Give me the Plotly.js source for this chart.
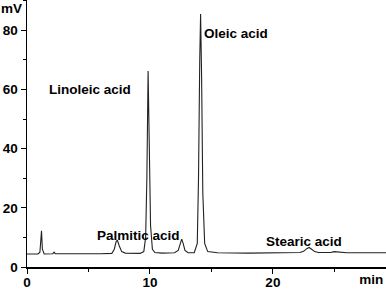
<!DOCTYPE html>
<html>
<head>
<meta charset="utf-8">
<script src="https://cdn.plot.ly/plotly-3.0.1.min.js"></script>
<style>html,body{margin:0;padding:0;background:#fff;}#chart{width:386px;height:290px;}</style>
</head>
<body>
<div id="chart"></div>
<script>
// Retention time (min) and detector signal (mV)
const timeMin = [0, 0.9, 1.05, 1.12, 1.18, 1.25, 1.4, 2.1, 2.2, 2.3, 4, 6, 6.9, 7.1, 7.25, 7.35, 7.5, 7.7, 8,
  9.2, 9.5, 9.65, 9.75, 9.85, 9.95, 10.05, 10.2, 10.4, 11, 12, 12.3, 12.45, 12.58, 12.7, 12.85, 13.1,
  13.6, 13.85, 13.95, 14.05, 14.12, 14.2, 14.3, 14.45, 14.7, 15.5, 18, 22.2, 22.5, 22.75, 22.95, 23.15,
  23.4, 23.7, 24.7, 25.0, 25.3, 25.6, 26, 29.2];
const signalMv = [4.4, 4.4, 5, 9, 12.2, 6, 4.4, 4.5, 5.0, 4.5, 4.4, 4.5, 4.6, 6, 8.6, 9.1, 7.2, 5.2, 4.7,
  4.6, 5.2, 10, 30, 66.2, 40, 14, 6, 4.9, 4.7, 4.8, 5.6, 8, 9.4, 8, 5.6, 4.8,
  4.8, 8, 30, 70, 85.5, 65, 25, 8, 5.2, 4.8, 4.7, 4.9, 5.3, 6.2, 6.6, 6,
  5.2, 4.9, 4.9, 5.2, 5.1, 4.9, 4.8, 4.8];

// Peak labels
const peakNames = ["Linoleic acid", "Oleic acid", "Palmitic acid", "Stearic acid"];
const peakLabelX = [1.6, 14.25, 5.55, 19.3];
const peakLabelY = [60.1, 79, 10.8, 8.55];

const xTickVals = [0, 10, 20];
const yTickVals = [0, 20, 40, 60, 80];
const xUnitPos = [28.0];
const xUnitText = ["min"];

const font = {family: "Liberation Sans, Arial, sans-serif", size: 13.5, color: "#000", weight: "bold"};

const annotations = peakNames.map((t, i) => ({
  text: t, x: peakLabelX[i], y: peakLabelY[i], xref: "x", yref: "y",
  xanchor: "left", yanchor: "middle", showarrow: false, font: font
}));
annotations.push({text: "mV", xref: "paper", yref: "paper", x: 0, y: 0.97,
  xanchor: "right", yanchor: "middle", xshift: -3, showarrow: false, font: font});

Plotly.newPlot("chart", [{
  x: timeMin, y: signalMv, type: "scatter", mode: "lines",
  line: {color: "#222", width: 1.1}, hoverinfo: "skip"
}, {
  x: [], y: [], xaxis: "x2", yaxis: "y", type: "scatter", mode: "lines",
  hoverinfo: "skip", showlegend: false
}], {
  width: 386, height: 290,
  margin: {l: 27, r: 0, t: 0, b: 23, pad: 0},
  paper_bgcolor: "#fff", plot_bgcolor: "#fff",
  showlegend: false,
  xaxis: {
    range: [0, 29.2], showgrid: false, zeroline: false,
    showline: true, linecolor: "#000", linewidth: 1.5,
    ticks: "outside", ticklen: 5, tickwidth: 1, tickcolor: "#000",
    tickvals: xTickVals, ticktext: xTickVals.map(String),
    tickfont: font, ticklabelstandoff: -3,
    minor: {dtick: 5, tick0: 0, ticks: "outside", ticklen: 3, tickcolor: "#000", showgrid: false}
  },
  xaxis2: {
    overlaying: "x", anchor: "y", side: "bottom",
    range: [0, 29.2], showgrid: false, zeroline: false, showline: false,
    ticks: "", tickvals: xUnitPos, ticktext: xUnitText,
    tickfont: font, ticklabelstandoff: 2
  },
  yaxis: {
    range: [0, 90.2], showgrid: false, zeroline: false,
    showline: true, linecolor: "#000", linewidth: 1.5,
    ticks: "outside", ticklen: 5, tickwidth: 1, tickcolor: "#000",
    tickvals: yTickVals, ticktext: yTickVals.map(String),
    tickfont: font,
    minor: {dtick: 10, tick0: 0, ticks: "outside", ticklen: 3, tickcolor: "#000", showgrid: false}
  },
  annotations: annotations
}, {staticPlot: true, displayModeBar: false});
</script>
</body>
</html>
